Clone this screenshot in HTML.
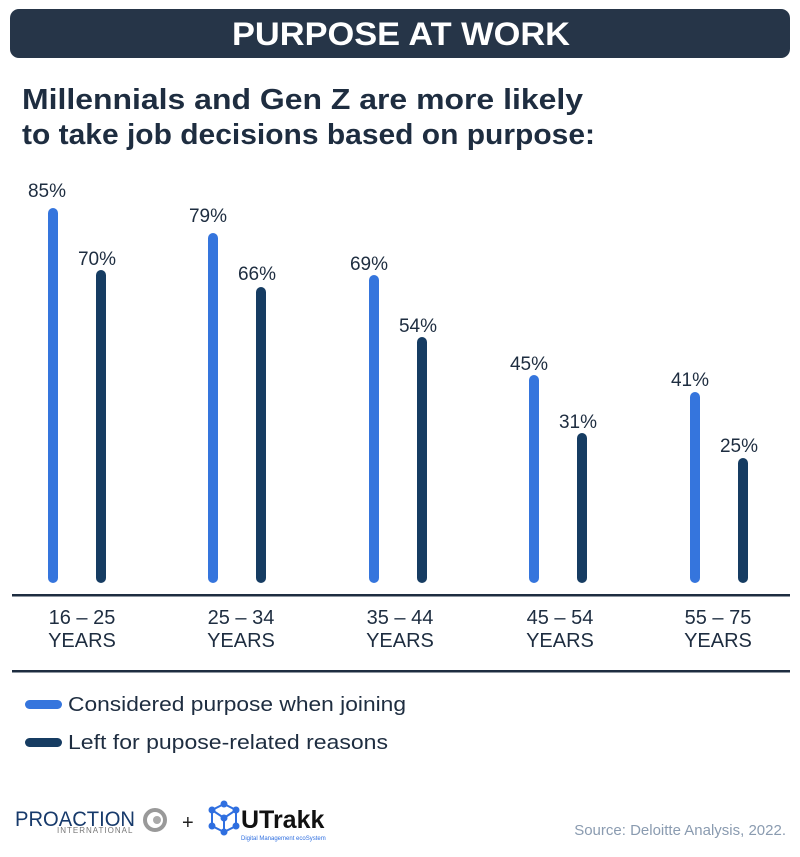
<!DOCTYPE html>
<html><head><meta charset="utf-8"><style>
body{margin:0;background:#fff;width:800px;height:852px;overflow:hidden;font-family:"Liberation Sans",sans-serif;}
</style></head><body>
<svg width="800" height="852" xmlns="http://www.w3.org/2000/svg" font-family="Liberation Sans, sans-serif">
<rect x="10" y="9" width="780" height="49" rx="9" fill="#263548"/>
<text x="232" y="45" textLength="338" lengthAdjust="spacingAndGlyphs" fill="#fff" font-size="32" font-weight="bold">PURPOSE AT WORK</text>
<text x="22" y="109" textLength="561" lengthAdjust="spacingAndGlyphs" fill="#1e2d40" font-size="29" font-weight="bold">Millennials and Gen Z are more likely</text>
<text x="22" y="144" textLength="573" lengthAdjust="spacingAndGlyphs" fill="#1e2d40" font-size="29" font-weight="bold">to take job decisions based on purpose:</text>
<g stroke-linecap="round" stroke-width="10">
<line x1="53" y1="213" x2="53" y2="578" stroke="#3575dd"/>
<line x1="101" y1="275" x2="101" y2="578" stroke="#163c62"/>
<line x1="213" y1="238" x2="213" y2="578" stroke="#3575dd"/>
<line x1="261" y1="292" x2="261" y2="578" stroke="#163c62"/>
<line x1="374" y1="280" x2="374" y2="578" stroke="#3575dd"/>
<line x1="422" y1="342" x2="422" y2="578" stroke="#163c62"/>
<line x1="534" y1="380" x2="534" y2="578" stroke="#3575dd"/>
<line x1="582" y1="438" x2="582" y2="578" stroke="#163c62"/>
<line x1="695" y1="397" x2="695" y2="578" stroke="#3575dd"/>
<line x1="743" y1="463" x2="743" y2="578" stroke="#163c62"/>
</g>
<g font-size="19" fill="#1e2d40" text-anchor="middle">
<text x="47" y="197">85%</text><text x="97" y="265">70%</text>
<text x="208" y="222">79%</text><text x="257" y="280">66%</text>
<text x="369" y="270">69%</text><text x="418" y="332">54%</text>
<text x="529" y="370">45%</text><text x="578" y="428">31%</text>
<text x="690" y="386">41%</text><text x="739" y="452">25%</text>
</g>
<rect x="12" y="594" width="778" height="2.5" fill="#1e2d40"/>
<rect x="12" y="670" width="778" height="2.5" fill="#1e2d40"/>
<g font-size="20" fill="#1e2d40" text-anchor="middle">
<text x="82" y="624">16 – 25</text><text x="82" y="647">YEARS</text>
<text x="241" y="624">25 – 34</text><text x="241" y="647">YEARS</text>
<text x="400" y="624">35 – 44</text><text x="400" y="647">YEARS</text>
<text x="560" y="624">45 – 54</text><text x="560" y="647">YEARS</text>
<text x="718" y="624">55 – 75</text><text x="718" y="647">YEARS</text>
</g>
<rect x="25" y="700" width="37" height="9" rx="4.5" fill="#3575dd"/>
<rect x="25" y="738" width="37" height="9" rx="4.5" fill="#163c62"/>
<text x="68" y="711" font-size="20" textLength="338" lengthAdjust="spacingAndGlyphs" fill="#1e2d40">Considered purpose when joining</text>
<text x="68" y="749" font-size="20" textLength="320" lengthAdjust="spacingAndGlyphs" fill="#1e2d40">Left for pupose-related reasons</text>
<text x="15" y="826" font-size="21" textLength="120" lengthAdjust="spacingAndGlyphs" fill="#173a6b">PROACTION</text>
<text x="57" y="833" font-size="8" fill="#777" letter-spacing="1">INTERNATIONAL</text>
<circle cx="155" cy="820" r="10" fill="none" stroke="#999" stroke-width="4"/>
<circle cx="157" cy="820" r="4" fill="#aaa"/>
<text x="182" y="829" font-size="20" fill="#222">+</text>
<g stroke="#2f6fe0" stroke-width="2" fill="#2f6fe0">
<path d="M212 810 L224 804 L236 810 L236 826 L224 832 L212 826 Z M212 810 L224 818 L236 810 M224 818 L224 832" fill="none"/>
<circle cx="212" cy="810" r="2.5"/><circle cx="224" cy="804" r="2.5"/><circle cx="236" cy="810" r="2.5"/>
<circle cx="236" cy="826" r="2.5"/><circle cx="224" cy="832" r="2.5"/><circle cx="212" cy="826" r="2.5"/><circle cx="224" cy="818" r="2.5"/>
</g>
<text x="241" y="828" font-size="25" font-weight="bold" fill="#111">UTrakk</text>
<text x="241" y="840" font-size="6" fill="#2f6fe0">Digital Management ecoSystem</text>
<text x="786" y="835" font-size="15" fill="#8a9bb0" text-anchor="end">Source: Deloitte Analysis, 2022.</text>
</svg>
</body></html>
